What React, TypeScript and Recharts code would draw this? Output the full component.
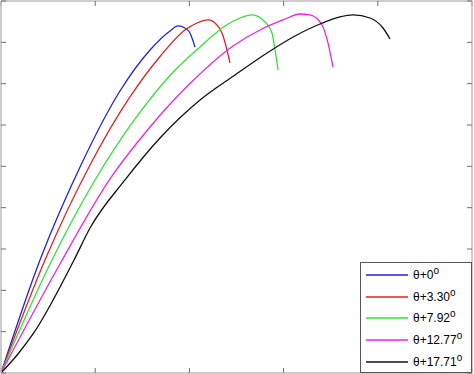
import React from "react";
import { LineChart, Line, XAxis, YAxis } from "recharts";

type Pt = { x: number; y: number };
const pts = (arr: number[][]): Pt[] => arr.map(([x, y]) => ({ x, y }));

// curves (x: 0..5, y: 0..9)
const curve0 = pts([
  [0, 0], [0.414, 2.734], [0.839, 4.984], [1.263, 6.823], [1.582, 7.815],
  [1.794, 8.275], [1.879, 8.396], [1.953, 8.348], [2.006, 8.226], [2.059, 7.888],
]);
const curve330 = pts([
  [0, 0], [0.467, 2.734], [0.945, 5.033], [1.369, 6.678], [1.688, 7.658],
  [1.953, 8.299], [2.081, 8.468], [2.197, 8.541], [2.293, 8.42], [2.346, 8.226],
  [2.399, 7.815], [2.431, 7.501],
]);
const curve792 = pts([
  [0, 0], [0.52, 2.637], [0.998, 4.67], [1.423, 6.146], [1.794, 7.198],
  [2.113, 7.888], [2.378, 8.396], [2.537, 8.589], [2.665, 8.662], [2.803, 8.493],
  [2.877, 8.226], [2.909, 7.815], [2.941, 7.331],
]);
const curve1277 = pts([
  [0, 0], [0.626, 2.637], [1.157, 4.694], [1.582, 5.952], [2.006, 7.002],
  [2.463, 7.912], [2.749, 8.299], [2.994, 8.541], [3.174, 8.686], [3.28, 8.662],
  [3.408, 8.42], [3.471, 7.985], [3.524, 7.404],
]);
const curve1771 = pts([
  [0, 0], [0.18, 0.46], [0.34, 0.944], [0.775, 2.734], [0.945, 3.508],
  [1.316, 4.67], [1.688, 5.686], [2.113, 6.605], [2.484, 7.21], [2.824, 7.743],
  [3.121, 8.154], [3.386, 8.444], [3.599, 8.614], [3.737, 8.662], [3.917, 8.589],
  [4.055, 8.347], [4.13, 8.081],
]);

const labels = ["0", "3.30", "7.92", "12.77", "17.71"];
const colors = ["#2020e6", "#e62020", "#2ee62e", "#f020f0", "#111111"];
const curves = [curve0, curve330, curve792, curve1277, curve1771];

const xTicks = [0, 1, 2, 3, 4, 5];
const yTicks = [0, 1, 2, 3, 4, 5, 6, 7, 8, 9];

const frame = { stroke: "#bdbdbd", strokeWidth: 1.5 };
const tickStroke = { stroke: "#707070" };
const noLabel = () => "";

const LegendBox = () => (
  <div
    style={{
      position: "absolute",
      left: 360,
      top: 262,
      width: 112,
      height: 111,
      border: "1px solid #555",
      boxSizing: "border-box",
      background: "#fff",
      fontFamily: '"Liberation Sans", Arial, sans-serif',
      fontSize: 12,
      color: "#000",
    }}
  >
    {labels.map((lab, i) => (
      <div
        key={lab}
        style={{
          position: "absolute",
          left: 5,
          top: 4 + Math.round(i * 21.7),
          height: 16,
          display: "flex",
          alignItems: "center",
          whiteSpace: "nowrap",
        }}
      >
        <svg width={42} height={4} style={{ display: "block" }}>
          <line x1={0} x2={42} y1={2} y2={2} stroke={colors[i]} strokeWidth={1.5} />
        </svg>
        <span style={{ marginLeft: 5 }}>
          θ+{lab}
          <sup style={{ fontSize: 10, verticalAlign: "baseline", position: "relative", top: -5 }}>o</sup>
        </span>
      </div>
    ))}
  </div>
);

export default function App() {
  return (
    <div style={{ position: "absolute", left: 0, top: 0, width: 474, height: 374, background: "#fff" }}>
      <LineChart width={474} height={374} margin={{ top: 1, right: 2, bottom: 1, left: 1 }}>
        <XAxis xAxisId="b" type="number" dataKey="x" domain={[0, 5]} ticks={xTicks} interval={0}
          orientation="bottom" mirror height={1} tickSize={5} tickFormatter={noLabel}
          axisLine={frame} tickLine={tickStroke} allowDataOverflow />
        <XAxis xAxisId="t" type="number" dataKey="x" domain={[0, 5]} ticks={xTicks} interval={0}
          orientation="top" mirror height={1} tickSize={5} tickFormatter={noLabel}
          axisLine={frame} tickLine={tickStroke} allowDataOverflow />
        <YAxis yAxisId="l" type="number" domain={[0, 9]} ticks={yTicks} interval={0}
          orientation="left" mirror width={1} tickSize={5} tickFormatter={noLabel}
          axisLine={frame} tickLine={tickStroke} allowDataOverflow />
        <YAxis yAxisId="r" type="number" domain={[0, 9]} ticks={yTicks} interval={0}
          orientation="right" mirror width={1} tickSize={5} tickFormatter={noLabel}
          axisLine={frame} tickLine={tickStroke} allowDataOverflow />
        {curves.map((c, i) => (
          <Line key={labels[i]} xAxisId="b" yAxisId="l" data={c} dataKey="y" type="monotone"
            stroke={colors[i]} strokeWidth={1.3} dot={false} isAnimationActive={false} />
        ))}
      </LineChart>
      <LegendBox />
    </div>
  );
}
